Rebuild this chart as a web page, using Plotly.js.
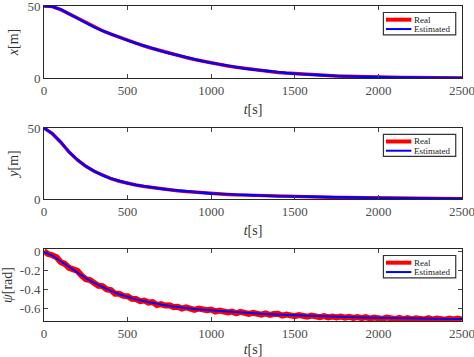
<!DOCTYPE html>
<html><head><meta charset="utf-8">
<script src="https://cdn.plot.ly/plotly-3.0.1.min.js"></script>
<style>html,body{margin:0;padding:0;background:#fff}#chart{width:474px;height:357px}</style>
</head><body><div id="chart"></div>
<script>
var seriesNames = ['Real', 'Estimated'];
var tCoarse = [0,50,100,150,200,250,300,350,400,450,500,550,600,650,700,750,800,850,900,950,1000,1050,1100,1150,1200,1250,1300,1350,1400,1450,1500,1550,1600,1650,1700,1750,1800,1850,1900,1950,2000,2050,2100,2150,2200,2250,2300,2350,2400,2450,2500];
var xReal = [50,49.6,47.5,44.5,41.2,38.2,35.4,32.8,30.4,28.2,26.1,24.1,22.2,20.5,18.8,17.2,15.6,14.2,12.9,11.6,10.4,9.3,8.3,7.4,6.6,5.8,5.1,4.5,3.9,3.4,3.0,2.6,2.2,1.9,1.6,1.4,1.2,1.0,0.85,0.7,0.6,0.5,0.4,0.33,0.27,0.22,0.18,0.15,0.12,0.1,0.08];
var xEst  = [50,49.6,47.6,44.6,41.3,38.2,35.4,32.8,30.4,28.2,26.1,24.1,22.2,20.5,18.8,17.2,15.7,14.3,12.9,11.6,10.5,9.4,8.4,7.5,6.6,5.9,5.2,4.5,3.9,3.4,3.0,2.6,2.2,1.9,1.6,1.4,1.2,1.0,0.85,0.7,0.6,0.5,0.4,0.33,0.27,0.22,0.18,0.15,0.12,0.1,0.08];
var yReal = [50,46,40,33,27.5,23,19.5,16.6,14.3,12.5,11,9.8,8.8,7.9,7.1,6.4,5.8,5.2,4.7,4.2,3.8,3.5,3.2,2.9,2.7,2.5,2.3,2.1,1.95,1.8,1.65,1.5,1.4,1.3,1.2,1.1,1.0,0.92,0.85,0.78,0.7,0.64,0.58,0.52,0.47,0.42,0.38,0.34,0.3,0.27,0.24];
var yEst  = [50,46,40.1,33.1,27.6,23.1,19.6,16.7,14.4,12.6,11.1,9.9,8.9,8.0,7.2,6.5,5.9,5.3,4.8,4.3,3.9,3.6,3.3,3.0,2.8,2.6,2.4,2.2,2.0,1.85,1.7,1.55,1.45,1.35,1.25,1.15,1.05,0.95,0.88,0.8,0.72,0.66,0.6,0.54,0.48,0.43,0.39,0.35,0.31,0.28,0.25];
var psiEst = [0,-0.04,-0.1,-0.16,-0.215,-0.28,-0.33,-0.375,-0.415,-0.45,-0.48,-0.505,-0.525,-0.545,-0.56,-0.575,-0.587,-0.598,-0.607,-0.615,-0.622,-0.63,-0.636,-0.642,-0.648,-0.653,-0.658,-0.663,-0.667,-0.671,-0.675,-0.679,-0.682,-0.685,-0.688,-0.691,-0.693,-0.696,-0.698,-0.7,-0.702,-0.704,-0.705,-0.707,-0.708,-0.709,-0.71,-0.711,-0.712,-0.713,-0.714];
var tFine = [0,25,50,75,100,125,150,175,200,225,250,275,300,325,350,375,400,425,450,475,500,525,550,575,600,625,650,675,700,725,750,775,800,825,850,875,900,925,950,975,1000,1025,1050,1075,1100,1125,1150,1175,1200,1225,1250,1275,1300,1325,1350,1375,1400,1425,1450,1475,1500,1525,1550,1575,1600,1625,1650,1675,1700,1725,1750,1775,1800,1825,1850,1875,1900,1925,1950,1975,2000,2025,2050,2075,2100,2125,2150,2175,2200,2225,2250,2275,2300,2325,2350,2375,2400,2425,2450,2475,2500];
var psiReal = [0.008,-0.024,-0.036,-0.058,-0.109,-0.128,-0.171,-0.181,-0.203,-0.252,-0.29,-0.3,-0.329,-0.361,-0.364,-0.399,-0.406,-0.445,-0.445,-0.468,-0.472,-0.499,-0.501,-0.525,-0.518,-0.539,-0.534,-0.565,-0.555,-0.57,-0.567,-0.587,-0.583,-0.603,-0.59,-0.605,-0.616,-0.602,-0.62,-0.621,-0.613,-0.634,-0.625,-0.631,-0.645,-0.635,-0.653,-0.638,-0.651,-0.659,-0.648,-0.66,-0.667,-0.654,-0.671,-0.661,-0.659,-0.678,-0.666,-0.675,-0.684,-0.672,-0.683,-0.69,-0.677,-0.688,-0.694,-0.682,-0.696,-0.687,-0.698,-0.688,-0.7,-0.691,-0.703,-0.694,-0.705,-0.693,-0.709,-0.698,-0.707,-0.712,-0.699,-0.711,-0.714,-0.702,-0.716,-0.704,-0.717,-0.706,-0.715,-0.718,-0.705,-0.719,-0.708,-0.717,-0.72,-0.709,-0.718,-0.71,-0.72];
var xTicks = [0,500,1000,1500,2000,2500];

var FONT = 'Liberation Serif, DejaVu Serif, serif';
var red = '#ff0000', blue = '#0000ff';
function tr(x, y, name, color, width, xa, ya){
  return {x:x, y:y, name:name, type:'scatter', mode:'lines', xaxis:xa, yaxis:ya, showlegend:false,
    line:{color:color, width:width}};
}
var data = [
  tr(tCoarse, xReal, seriesNames[0], red, 3.5, 'x', 'y'),
  tr(tCoarse, xEst, seriesNames[1], blue, 2.5, 'x', 'y'),
  tr(tCoarse, yReal, seriesNames[0], red, 3.5, 'x2', 'y2'),
  tr(tCoarse, yEst, seriesNames[1], blue, 2.5, 'x2', 'y2'),
  tr(tFine, psiReal, seriesNames[0], red, 6, 'x3', 'y3'),
  tr(tCoarse, psiEst, seriesNames[1], blue, 2, 'x3', 'y3')
];
function xax(anchor){
  return {anchor:anchor, domain:[0,1], range:[0,2500], tickvals:xTicks, ticks:'inside', ticklen:4,
    showline:true, mirror:'ticks', linecolor:'#262626', linewidth:1, showgrid:false, zeroline:false,
    ticklabeloverflow:'allow',
    tickfont:{family:FONT, size:13, color:'#4d4d4d'},
    title:{text:'<i>t</i>[s]', font:{family:FONT, size:14, color:'#333'}, standoff:7}};
}
function yax(anchor, dom, range, tickvals, ticktext, title){
  return {anchor:anchor, domain:dom, range:range, tickvals:tickvals, ticktext:ticktext, ticks:'inside', ticklen:4,
    showline:true, mirror:'ticks', linecolor:'#262626', linewidth:1, showgrid:false, zeroline:false,
    ticklabeloverflow:'allow',
    tickfont:{family:FONT, size:13, color:'#4d4d4d'},
    title:{text:title, font:{family:FONT, size:14, color:'#333'}, standoff:5}};
}
// hand-drawn legend boxes (legend layout only, not data)
var shapes = [], annotations = [];
function legendBox(sx, sy){
  var xr = sx + ' domain', yr = sy + ' domain';
  shapes.push({type:'rect', xref:xr, yref:yr, x0:0.812, x1:0.985, y0:0.6, y1:0.91,
    fillcolor:'#fff', line:{color:'#333', width:1.2}, layer:'above'});
  shapes.push({type:'line', xref:xr, yref:yr, x0:0.818, x1:0.879, y0:0.81, y1:0.81,
    line:{color:red, width:4}, layer:'above'});
  shapes.push({type:'line', xref:xr, yref:yr, x0:0.818, x1:0.879, y0:0.68, y1:0.68,
    line:{color:blue, width:2}, layer:'above'});
  annotations.push({xref:xr, yref:yr, x:0.88, y:0.81, xanchor:'left', yanchor:'middle', showarrow:false,
    text:seriesNames[0], font:{family:FONT, size:9, color:'#222'}});
  annotations.push({xref:xr, yref:yr, x:0.88, y:0.68, xanchor:'left', yanchor:'middle', showarrow:false,
    text:seriesNames[1], font:{family:FONT, size:9, color:'#222'}});
}
legendBox('x','y'); legendBox('x2','y2'); legendBox('x3','y3');
var layout = {
  width:474, height:357, margin:{l:44, r:12, t:0, b:0}, paper_bgcolor:'#fff', plot_bgcolor:'#fff',
  showlegend:false,
  xaxis: xax('y'), xaxis2: xax('y2'), xaxis3: xax('y3'),
  yaxis: yax('x', [0.7815,0.9832], [0,50], [0,50], ['0','50'], '<i>x</i>[m]'),
  yaxis2: yax('x2', [0.4426,0.6415], [0,50], [0,50], ['0','50'], '<i>y</i>[m]'),
  yaxis3: yax('x3', [0.1008,0.3025], [-0.735,0.03], [0,-0.2,-0.4,-0.6], ['0','-0.2','-0.4','-0.6'], '<i>ψ</i>[rad]'),
  shapes: shapes, annotations: annotations
};
Plotly.newPlot('chart', data, layout, {staticPlot:true, displayModeBar:false});
</script></body></html>
